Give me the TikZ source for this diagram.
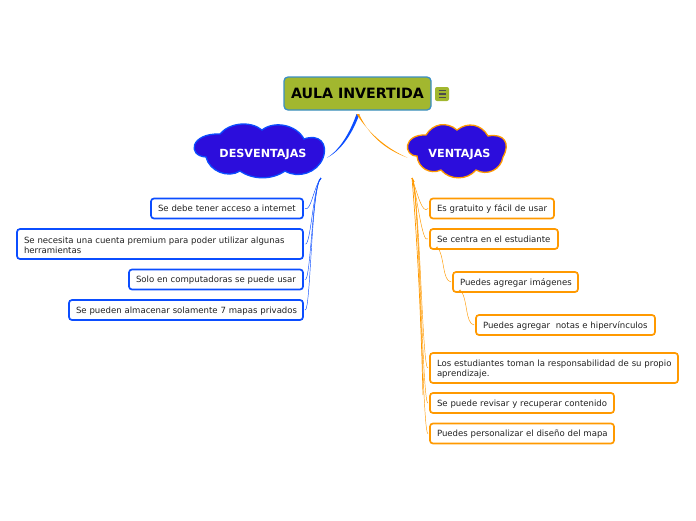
\documentclass[tikz,border=0pt]{standalone}
\usepackage{fontspec}
\setmainfont{DejaVu Sans}
\definecolor{rootgreen}{HTML}{A2B72F}
\definecolor{rootline}{HTML}{3A8FC4}
\definecolor{cloudfill}{HTML}{2C0DDC}
\definecolor{linkblue}{HTML}{0B4DFF}
\definecolor{linkorange}{HTML}{FF9900}
\definecolor{leaftext}{HTML}{222222}
\tikzset{
    leaf/.style={draw, fill=white, rounded corners=3pt, line width=1.7pt, text=leaftext,
        font=\fontsize{8.55}{10.5}\selectfont, align=left, inner xsep=0pt, inner ysep=0pt},
    leafblue/.style={leaf, draw=linkblue},
    leaforange/.style={leaf, draw=linkorange},
    oneline/.style={text height=7.5pt, text depth=1.5pt},
    puff/.style 2 args={bend left=#1, looseness=#2},
    cloudtext/.style={text=white, font=\fontsize{11.2}{13}\selectfont\bfseries, inner sep=0pt},
    twig/.style={line width=0.45pt}
}
\begin{document}
\begin{tikzpicture}[x=1pt, y=-1pt]
    \useasboundingbox (0, 0) rectangle (696, 520);
    % root
    \node [draw=rootline, fill=rootgreen, rounded corners=4pt, line width=1.3pt, minimum width=147pt,
        minimum height=33pt, inner sep=0pt, font=\fontsize{14.2}{16}\selectfont\bfseries] (aula) at (357.5, 93.5) {AULA INVERTIDA};
    \node [fill=rootgreen, rounded corners=2pt, minimum size=14pt, inner sep=0pt] (menu) at (442, 94) {};
    \draw [line width=1.1pt, black!70] (438.5, 90.5) -- (445.5, 90.5);
    \draw [line width=1.1pt, black!70] (438.5, 94) -- (445.5, 94);
    \draw [line width=1.1pt, black!70] (438.5, 97.5) -- (445.5, 97.5);
    \coordinate (aulafoot) at (358, 114);
    % clouds
    \draw [fill=cloudfill, draw=linkblue, line width=1.3pt] (220, 134)
    to [puff={45}{0.9}] (262, 130)
    to [puff={50}{0.95}] (304, 139)
    to [puff={65}{1.5}] (323, 158)
    to [puff={50}{1}] (285, 171)
    to [puff={35}{0.9}] (240, 171)
    to [puff={55}{1}] (206, 157)
    .. controls (187, 156) and (190, 133) .. (220, 134)
    -- cycle;
    \draw [fill=cloudfill, draw=linkorange, line width=1.3pt] (426, 135)
    to [puff={50}{1.1}] (457, 130)
    to [puff={50}{1.1}] (488, 136)
    to [puff={65}{1.6}] (503, 157)
    to [puff={55}{1.1}] (476, 170)
    to [puff={50}{1}] (441, 170)
    to [puff={55}{1.1}] (417, 156)
    .. controls (403, 156) and (403, 134) .. (426, 135)
    -- cycle;
    \node [cloudtext, minimum width=128pt] (desventajas) at (263, 154) {DESVENTAJAS};
    \node [cloudtext, minimum width=104pt] (ventajas) at (459.5, 154) {VENTAJAS};
    % root links
    \fill [linkblue] ([xshift=-1.5pt]aulafoot) .. controls (351, 130) and (341, 149) .. ([yshift=-3.6pt]desventajas.east)
    .. controls (342, 150) and (353, 132) .. ([xshift=1.5pt]aulafoot) -- cycle;
    \fill [linkorange] ([xshift=-1.5pt]aulafoot) .. controls (370, 135) and (388, 149) .. ([yshift=-3.6pt]ventajas.west)
    .. controls (388, 150.5) and (370, 138) .. ([xshift=1pt]aulafoot) -- cycle;
    % desventajas
    \coordinate (desvtail) at (321, 178);
    \node [leafblue, oneline, minimum width=152pt, minimum height=20pt, text width=138pt] (d1) at (227, 208.5) {\mbox{Se debe tener acceso a internet}};
    \node [leafblue, minimum width=286pt, minimum height=30pt, text width=272pt] (d2) at (160, 244) {\rule{0pt}{9pt}\mbox{Se necesita una cuenta premium para poder utilizar algunas}\\herramientas};
    \node [leafblue, oneline, minimum width=174pt, minimum height=20pt, text width=160pt] (d3) at (216, 279.5) {\mbox{Solo en computadoras se puede usar}};
    \node [leafblue, oneline, minimum width=234pt, minimum height=20pt, text width=220pt] (d4) at (186, 310) {\mbox{Se pueden almacenar solamente 7 mapas privados}};
    \draw [linkblue, line width=1.2pt] (desvtail) -- (319, 181);
    \foreach \leafname/\bendx in {d1/314, d2/313, d3/312, d4/311} {
        \draw [linkblue, twig] (desvtail) .. controls (\bendx, 186) and ([xshift=7pt,yshift=-4pt]\leafname.east) .. ([xshift=1pt]\leafname.east);
    }
    % ventajas
    \coordinate (ventail) at (412, 178);
    \node [leaforange, oneline, minimum width=124pt, minimum height=20pt, text width=110pt] (v1) at (492, 208.5) {\mbox{Es gratuito y fácil de usar}};
    \node [leaforange, oneline, minimum width=128pt, minimum height=20pt, text width=114pt] (v2) at (494, 239) {\mbox{Se centra en el estudiante}};
    \node [leaforange, oneline, minimum width=125pt, minimum height=20pt, text width=111pt] (v3) at (515.5, 282) {\mbox{Puedes agregar imágenes}};
    \node [leaforange, oneline, minimum width=179pt, minimum height=20pt, text width=165pt] (v4) at (565.5, 325) {\mbox{Puedes agregar\ \ notas e hipervínculos}};
    \node [leaforange, minimum width=248pt, minimum height=30pt, text width=234pt] (v5) at (554, 368) {\rule{0pt}{9pt}\mbox{Los estudiantes toman la responsabilidad de su propio}\\aprendizaje.};
    \node [leaforange, oneline, minimum width=184pt, minimum height=20pt, text width=170pt] (v6) at (522, 403) {\mbox{Se puede revisar y recuperar contenido}};
    \node [leaforange, oneline, minimum width=184pt, minimum height=20pt, text width=170pt] (v7) at (522, 433.5) {\mbox{Puedes personalizar el diseño del mapa}};
    \draw [linkorange, line width=1.2pt] (ventail) -- (414, 182);
    \foreach \leafname/\bendx in {v1/418, v2/417, v5/420, v6/420, v7/420} {
        \draw [linkorange, twig] (ventail) .. controls (\bendx, 195) and ([xshift=-7pt,yshift=-6pt]\leafname.west) .. ([xshift=-1pt]\leafname.west);
    }
    \draw [linkorange, line width=0.7pt] (ventail) .. controls (418, 250) and (421, 320) .. (423, 395);
    \draw [linkorange, twig] ([xshift=5pt]v2.south west) -- ([xshift=8pt,yshift=3pt]v2.south west)
    .. controls (445, 256) and (442, 281) .. ([xshift=-1pt]v3.west);
    \draw [linkorange, twig] ([xshift=5pt]v3.south west) -- ([xshift=8pt,yshift=3pt]v3.south west)
    .. controls (468, 298) and (465, 324) .. ([xshift=-1pt]v4.west);
\end{tikzpicture}
\end{document}
